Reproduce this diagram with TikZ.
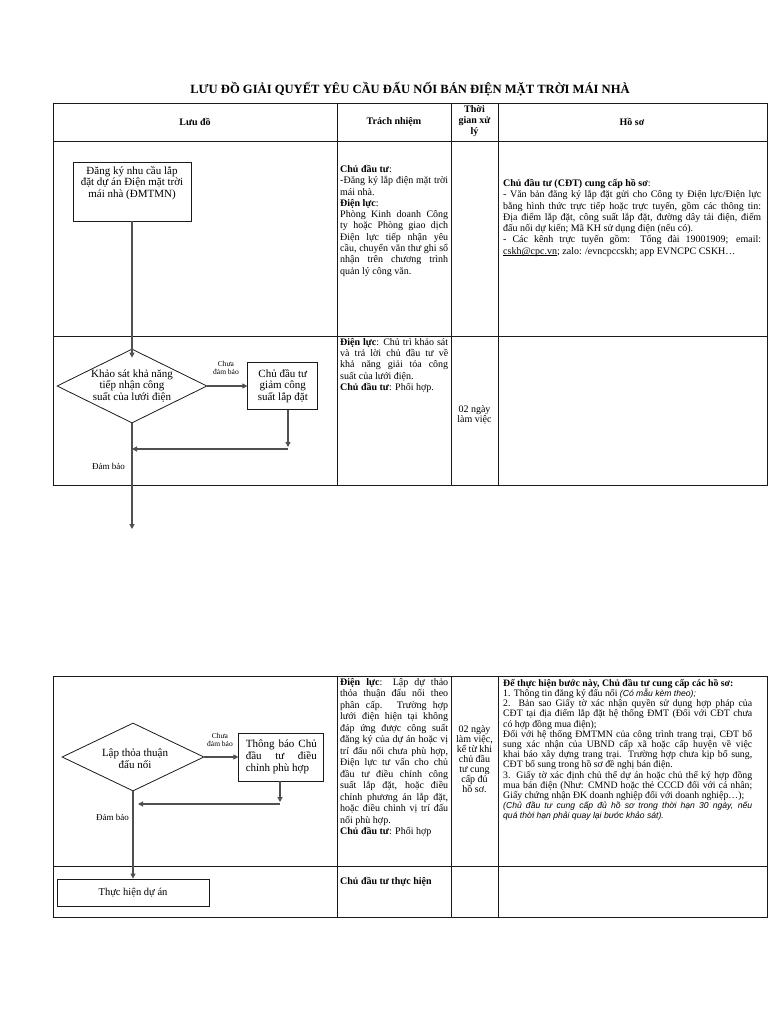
\documentclass[tikz,border=0pt]{standalone}
\usepackage{fontspec}
\setmainfont{Liberation Serif}
\newfontfamily\noteit{Liberation Sans}
\usetikzlibrary{arrows.meta,positioning,shapes.geometric}
\definecolor{ink}{HTML}{1A1A1A}
\definecolor{wire}{HTML}{505050}
\newcommand\mailline[1]{\setbox0\hbox{#1}\rlap{\rule[-1.3pt]{\wd0}{0.5pt}}\box0}

\begin{document}
\begin{tikzpicture}[x=1pt,y=-1pt,
grid/.style={draw=ink,line width=0.9pt},
head/.style={font=\fontsize{10}{11}\selectfont\bfseries,align=center,inner sep=0pt},
duty/.style={anchor=north west,inner sep=0pt,text width=108pt,align=justify,font=\fontsize{10}{11.3}\selectfont},
docs/.style={anchor=north west,inner sep=0pt,align=justify,font=\fontsize{10}{11.3}\selectfont},
days/.style={inner sep=0pt,align=center,font=\fontsize{10}{10.5}\selectfont},
procbox/.style={draw=ink,line width=0.8pt,rectangle,inner sep=0pt},
decision/.style={draw=ink,line width=0.8pt,diamond,inner sep=0pt},
flowtext/.style={inner sep=0pt,align=center,font=\fontsize{11}{11.7}\selectfont},
tag/.style={inner sep=0pt,align=center,font=\fontsize{7.5}{8.5}\selectfont},
oktag/.style={inner sep=0pt,anchor=east,font=\fontsize{9}{10}\selectfont},
flow/.style={-{Triangle[length=5pt,width=5pt]},line width=1.1pt,draw=wire}
]
\useasboundingbox[fill=white] (0,0) rectangle (768,1024);

\node[font=\fontsize{12.6}{14}\selectfont\bfseries] (title) at (410,89) {LƯU ĐỒ GIẢI QUYẾT YÊU CẦU ĐẤU NỐI BÁN ĐIỆN MẶT TRỜI MÁI NHÀ};

% bang 1
\draw[grid] (53,103) rectangle (767,485);
\draw[grid] (53,141) -- (767,141) (53,336) -- (767,336);
\foreach \cx in {337,451,498} \draw[grid] (\cx,103) -- (\cx,485);

\node[head] (hflow) at (195,122) {Lưu đồ};
\node[head] (hduty) at (394,122) {Trách nhiệm};
\node[head] (htime) at (474.5,121) {Thời\\gian xử\\lý};
\node[head] (hdocs) at (632,122) {Hồ sơ};

\node[duty] (duty1) at (340,165) {\textbf{Chủ đầu tư}:\par
-Đăng ký lắp điện mặt trời\linebreak mái nhà.\par
\textbf{Điện lực}:\par
Phòng Kinh doanh Công\linebreak ty hoặc Phòng giao dịch\linebreak Điện lực tiếp nhận yêu\linebreak cầu, chuyển văn thư ghi sổ\linebreak nhận trên chương trình\linebreak quản lý công văn.};
\node[docs,text width=258pt] (docs1) at (503,179) {\textbf{Chủ đầu tư (CĐT) cung cấp hồ sơ}:\par
- Văn bản đăng ký lắp đặt gửi cho Công ty Điện lực/Điện lực\linebreak bằng hình thức trực tiếp hoặc trực tuyến, gồm các thông tin:\linebreak Địa điểm lắp đặt, công suất lắp đặt, đường dây tải điện, điểm\linebreak đấu nối dự kiến; Mã KH sử dụng điện (nếu có).\par
- Các kênh trực tuyến gồm: Tổng đài 19001909; email:\linebreak \mailline{cskh@cpc.vn}; zalo: /evncpccskh; app EVNCPC CSKH…};

\node[procbox,minimum width=118pt,minimum height=59pt] (register) at (132,191.5) {};
\node[flowtext,anchor=north] (registertxt) at (132,166) {Đăng ký nhu cầu lắp\\đặt dự án Điện mặt trời\\mái nhà (ĐMTMN)};
\node[decision,minimum width=150pt,minimum height=74pt] (survey) at (132,386) {};
\node[flowtext] (surveytxt) at (survey) {Khảo sát khả năng\\tiếp nhận công\\suất của lưới điện};
\node[procbox,flowtext,minimum width=70pt,minimum height=47pt,right=40pt of survey] (reduce) {Chủ đầu tư\\giảm công\\suất lắp đặt};

\draw[flow] (register.south) -- ([yshift=-9pt]survey.north);
\draw[flow] (survey.east) -- (reduce.west);
\node[tag] (nook1) at (226,368) {Chưa\\đảm bảo};
\coordinate (back1) at (288,449);
\draw[flow] (reduce.south -| back1) -- ([yshift=2pt]back1);
\draw[flow] (back1) -- (back1 -| survey.south);
\coordinate (exit1) at (132,529);
\draw[flow] (survey.south) -- (exit1);
\node[oktag] (ok1) at (125,466) {Đảm bảo};

\node[duty] (duty2) at (340,338) {\textbf{Điện lực}: Chủ trì khảo sát\linebreak và trả lời chủ đầu tư về\linebreak khả năng giải tỏa công\linebreak suất của lưới điện.\par
\textbf{Chủ đầu tư}: Phối hợp.};
\node[days] (days2) at (474.5,415) {02 ngày\\làm việc};

% bang 2
\draw[grid] (53,676) rectangle (767,917);
\draw[grid] (53,866) -- (767,866);
\foreach \cx in {337,451,498} \draw[grid] (\cx,676) -- (\cx,917);

\node[duty,font=\fontsize{10}{11.5}\selectfont] (duty3) at (340,678) {\textbf{Điện lực}: Lập dự thảo\linebreak thỏa thuận đấu nối theo\linebreak phân cấp. Trường hợp\linebreak lưới điện hiện tại không\linebreak đáp ứng được công suất\linebreak đăng ký của dự án hoặc vị\linebreak trí đấu nối chưa phù hợp,\linebreak Điện lực tư vấn cho chủ\linebreak đầu tư điều chỉnh công\linebreak suất lắp đặt, hoặc điều\linebreak chỉnh phương án lắp đặt,\linebreak hoặc điều chỉnh vị trí đấu\linebreak nối phù hợp.\par
\textbf{Chủ đầu tư}: Phối hợp};
\node[days,font=\fontsize{10}{9.9}\selectfont] (days3) at (474.5,759) {02 ngày\\làm việc,\\kể từ khi\\chủ đầu\\tư cung\\cấp đủ\\hồ sơ.};
\node[docs,text width=249pt,font=\fontsize{9.8}{10.2}\selectfont] (docs3) at (503,679) {\textbf{Để thực hiện bước này, Chủ đầu tư cung cấp các hồ sơ:}\par
1. Thông tin đăng ký đấu nối {\noteit\itshape\fontsize{8.6}{10.2}\selectfont (Có mẫu kèm theo);}\par
2. Bản sao Giấy tờ xác nhận quyền sử dụng hợp pháp của\linebreak CĐT tại địa điểm lắp đặt hệ thống ĐMT (Đối với CĐT chưa\linebreak có hợp đồng mua điện);\par
Đối với hệ thống ĐMTMN của công trình trang trại, CĐT bổ\linebreak sung xác nhận của UBND cấp xã hoặc cấp huyện về việc\linebreak khai báo xây dựng trang trại. Trường hợp chưa kịp bổ sung,\linebreak CĐT bổ sung trong hồ sơ đề nghị bán điện.\par
3. Giấy tờ xác định chủ thể dự án hoặc chủ thể ký hợp đồng\linebreak mua bán điện (Như: CMND hoặc thẻ CCCD đối với cá nhân;\linebreak Giấy chứng nhận ĐK doanh nghiệp đối với doanh nghiệp…);\par
{\noteit\itshape\fontsize{8.6}{10.2}\selectfont (Chủ đầu tư cung cấp đủ hồ sơ trong thời hạn 30 ngày, nếu\linebreak quá thời hạn phải quay lại bước khảo sát).}};

\node[decision,minimum width=142pt,minimum height=68pt] (agree) at (133,757) {};
\node[flowtext] (agreetxt) at (135,759) {Lập thỏa thuận\\đấu nối};
\node[procbox,flowtext,text width=71pt,align=justify,inner xsep=7pt,minimum height=48pt,right=34pt of agree] (notify) {Thông báo Chủ\linebreak đầu tư điều\linebreak chỉnh phù hợp};

\draw[flow] (agree.east) -- (notify.west);
\node[tag] (nook2) at (220,740) {Chưa\\đảm bảo};
\coordinate (back2) at (280,804);
\draw[flow] (notify.south -| back2) -- ([yshift=2pt]back2);
\draw[flow] (back2) -- ([xshift=5pt]back2 -| agree.south);
\node[procbox,minimum width=152pt,minimum height=27pt,font=\fontsize{10.5}{12}\selectfont] (build) at (133,892.5) {Thực hiện dự án};
\draw[flow] (agree.south) -- (build.north);
\node[oktag] (ok2) at (129,817) {Đảm bảo};

\node[duty,font=\fontsize{10}{11.3}\selectfont\bfseries] (duty4) at (340,877) {Chủ đầu tư thực hiện};
\end{tikzpicture}
\end{document}
